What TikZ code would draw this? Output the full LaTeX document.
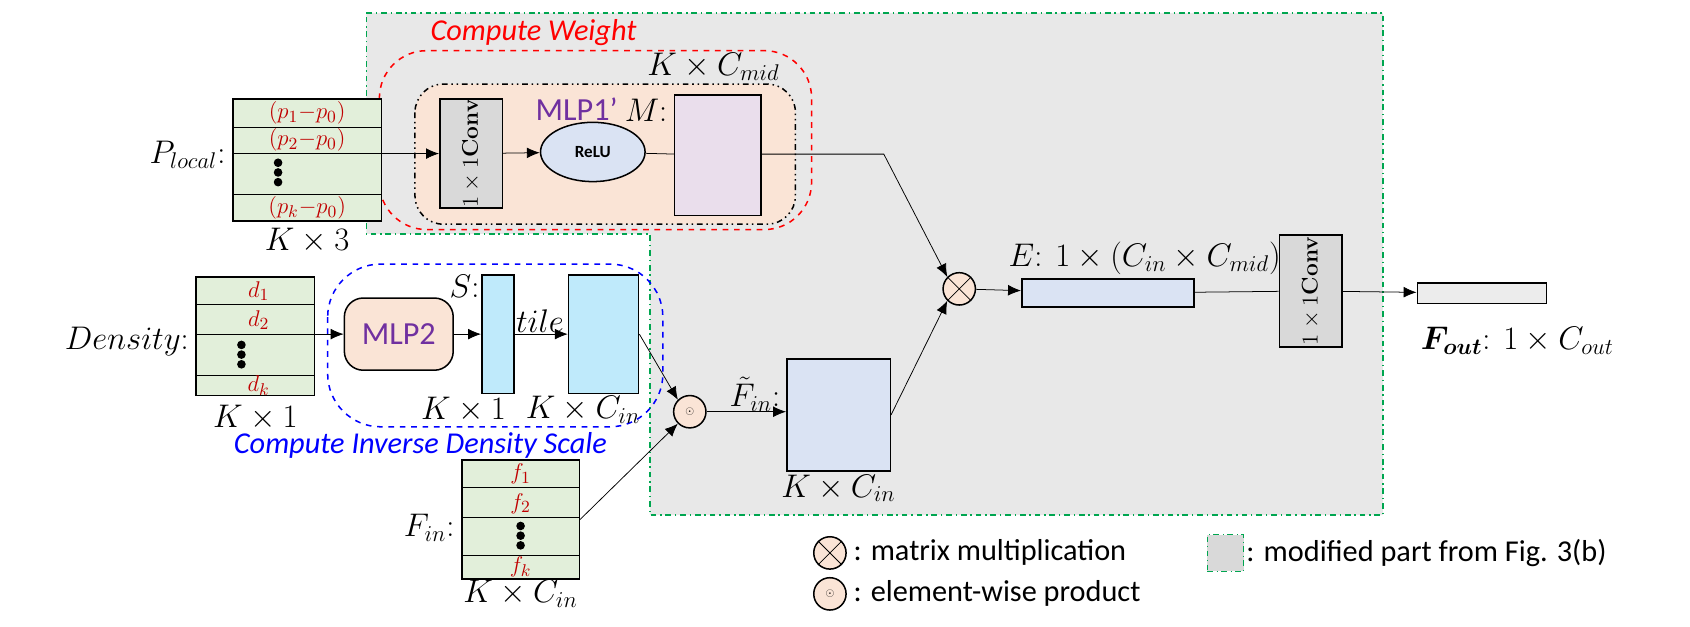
\documentclass[tikz,border=0pt]{standalone}
\usepackage{amsmath}
\usepackage{fontspec}
\setsansfont{Carlito}
\usepackage{tikz}
\usetikzlibrary{arrows.meta}
\usetikzlibrary{calc}
\usetikzlibrary{shapes}
\usetikzlibrary{positioning}
\tikzset{>=latex}
\definecolor{tabgreen}{RGB}{226,239,218}
\definecolor{peach}{RGB}{250,228,214}
\definecolor{paleblue}{RGB}{218,227,243}
\definecolor{lavender}{RGB}{234,222,236}
\definecolor{mlpviolet}{RGB}{112,48,160}
\definecolor{entryred}{RGB}{192,0,0}
\definecolor{greydash}{RGB}{0,166,80}
\begin{document}
\begin{tikzpicture}[x=0.02cm, y=-0.02cm,
        box/.style={draw, thick, inner sep=0pt},
        tab/.style={draw, thick, fill=tabgreen, inner sep=0pt},
        conv/.style={draw, thick, fill=gray!30, inner sep=0pt},
        op/.style={draw, thick, circle, fill=peach, minimum size=30*0.02cm, inner sep=0pt},
        arr/.style={-{Latex[length=2.4mm, width=2mm]}},
        lbl/.style={font=\fontsize{17}{20}\selectfont},
        entry/.style={text=entryred, font=\fontsize{13}{15}\selectfont},
        sflbl/.style={font=\sffamily\fontsize{16}{19}\selectfont}
    ]
    \def\u{0.02cm}
    \useasboundingbox (0,0) rectangle (1568,581);

    %=== Modified region ===%
    \fill[gray!18] (340,12) -- (1283,12) -- (1283,478) -- (603,478) -- (603,217) -- (340,217) -- cycle;
    \draw[greydash, thick, dash dot] (340,12) -- (1283,12) -- (1283,478) -- (603,478) -- (603,217) -- (340,217) -- cycle;

    %=== Compute weight ===%
    \draw[red, thick, dashed, rounded corners=25] (352,47) rectangle (753,213);
    \node[red, font=\sffamily\itshape\fontsize{16}{19}\selectfont] (cw) at (495,30) {Compute Weight};
    \draw[thick, dash dot dot, fill=peach, rounded corners=15] (385,78) rectangle (738,208);

    \node[conv, minimum width=58*\u, minimum height=101*\u] (conv1) at (437,142.5)
        {\rotatebox{90}{\fontsize{12}{14}\selectfont $1\times1$\textbf{Conv}}};
    \node[draw, thick, ellipse, fill=paleblue, minimum width=97*\u, minimum height=55*\u] (relu) at (550,141)
        {\sffamily\bfseries\small ReLU};
    \node[text=mlpviolet, font=\sffamily\fontsize{17}{20}\selectfont] (mlp1) at (535,101) {MLP1’};
    \node[box, fill=lavender, minimum width=80*\u, minimum height=112*\u] (M) at (666,144) {};
    \node[lbl, anchor=east] (Mlbl) at (M.north west) [yshift=-0.3cm] {$M$:};
    \node[lbl] (Kmid) at (662,62) {$K\times C_{mid}$};

    %=== Local positions ===%
    \node[tab, minimum width=138*\u, minimum height=113*\u] (P) at (285,148.5) {};
    \foreach \yy in {118,142,180} \draw (216,\yy) -- (354,\yy);
    \node[entry] at (285,105) {$(p_1{-}p_0)$};
    \node[entry] at (285,130) {$(p_2{-}p_0)$};
    \node[entry] at (285,193) {$(p_k{-}p_0)$};
    \foreach \yy in {151,160,169} \fill (258,\yy) circle (4);
    \node[lbl, anchor=east] (Plbl) at (P.west) [yshift=0.1cm] {$P_{local}$:};
    \node[lbl, below=0pt of P] (P3) {$K\times 3$};

    %=== Density ===%
    \draw[blue, thick, dashed, rounded corners=28] (304,245) rectangle (615,396);
    \node[blue, font=\sffamily\itshape\fontsize{16}{19}\selectfont] (cids) at (390,413) {Compute Inverse Density Scale};
    \node[tab, minimum width=110*\u, minimum height=110*\u] (D) at (237,312) {};
    \foreach \yy in {282,310,348} \draw (182,\yy) -- (292,\yy);
    \node[entry] at (240,270) {$d_1$};
    \node[entry] at (240,297) {$d_2$};
    \node[entry] at (240,358) {$d_k$};
    \foreach \yy in {320,329,338} \fill (224,\yy) circle (4);
    \node[lbl, anchor=east] (Dlbl) at (D.west) [yshift=-0.1cm] {$Density$:};
    \node[lbl, below=1pt of D] (D1) {$K\times 1$};

    \node[draw, thick, fill=peach, rounded corners=10, minimum width=101*\u, minimum height=67*\u] (mlp2) at (370,310)
        {\color{mlpviolet}\sffamily\fontsize{17}{20}\selectfont MLP2};
    \node[box, fill=cyan!25, minimum width=30*\u, minimum height=110*\u] (S) at (462,310) {};
    \node[box, fill=cyan!25, minimum width=65*\u, minimum height=110*\u] (T) at (560,310) {};
    \node[lbl] (Slbl) at (431,266) {$S$:};
    \node[lbl] (tile) at (501,298) {$tile$};
    \node[lbl] (S1) at (430,380) {$K\times 1$};
    \node[lbl] (Tc) at (541,380) {$K\times C_{in}$};

    %=== Input features ===%
    \node[tab, minimum width=109*\u, minimum height=110*\u] (F) at (483,482) {};
    \foreach \yy in {452,480,515} \draw (428,\yy) -- (537,\yy);
    \node[entry] at (483,440) {$f_1$};
    \node[entry] at (483,467) {$f_2$};
    \node[entry] at (483,526) {$f_k$};
    \foreach \yy in {488,497,506} \fill (483,\yy) circle (4);
    \node[lbl, anchor=east] (Flbl) at (F.west) [yshift=-0.15cm] {$F_{in}$:};
    \node[lbl, below=-3pt of F] (Fc) {$K\times C_{in}$};

    %=== Combination ===%
    \node[op] (dot) at (640,382) {\scalebox{0.6}{$\odot$}};
    \node[box, fill=paleblue, minimum width=96*\u, minimum height=104*\u] (Ft) at (778,385) {};
    \node[lbl, anchor=east] (Ftlbl) at (730,366) {$\tilde{F}_{in}$:};
    \node[lbl, below=-2pt of Ft] (Ftc) {$K\times C_{in}$};
    \node[op] (mul) at (890,268) {};
    \draw (mul.north west) -- (mul.south east) (mul.north east) -- (mul.south west);
    \node[box, fill=paleblue, minimum width=160*\u, minimum height=26*\u] (E) at (1028,272) {};
    \node[lbl] (Elbl) at (1062,240) {$E$: $1\times(C_{in}\times C_{mid})$};
    \node[conv, minimum width=58*\u, minimum height=104*\u] (conv2) at (1216,270)
        {\rotatebox{90}{\fontsize{12}{14}\selectfont $1\times1$\textbf{Conv}}};
    \node[box, fill=gray!15, minimum width=120*\u, minimum height=19*\u] (out) at (1375,272) {};
    \node[lbl, anchor=north west] (outlbl) at (1312,297) {$\boldsymbol{F_{out}}$: $1\times C_{out}$};

    %=== Connectors ===%
    \draw[arr] (P.east |- conv1) -- (conv1.west);
    \draw[arr] (conv1) -- (relu);
    \draw (relu) -- (M);
    \coordinate (bend) at (820,143);
    \draw[arr] (M.east |- bend) -- (bend) -- (mul.north west);
    \draw[arr] (D.east |- mlp2) -- (mlp2.west);
    \draw[arr] (mlp2) -- (S);
    \draw[arr] (S) -- (T);
    \draw[arr] (T.east) -- (dot.north west);
    \draw[arr] (F.east) -- (dot.south west);
    \draw[arr] (dot) -- (Ft.west |- dot);
    \draw[arr] (Ft.east) -- (mul.south west);
    \draw[arr] (mul) -- (E);
    \draw (E) -- (conv2);
    \draw[arr] (conv2) -- (out);

    %=== Legend ===%
    \node[op] (lmul) at (770,513) {};
    \draw (lmul.north west) -- (lmul.south east) (lmul.north east) -- (lmul.south west);
    \node[sflbl, anchor=west] (lmultxt) at (lmul.east) {: matrix multiplication};
    \node[op] (ldot) at (770,551) {\scalebox{0.6}{$\odot$}};
    \node[sflbl, anchor=west] (ldottxt) at (ldot.east) {: element-wise product};
    \node[draw=greydash, dash dot, fill=gray!30, minimum width=34*\u, minimum height=34*\u] (lgrey) at (1137,513) {};
    \node[sflbl, anchor=west, inner sep=1pt] (lgreytxt) at (lgrey.east) {: modified part from Fig. 3(b)};
\end{tikzpicture}
\end{document}
